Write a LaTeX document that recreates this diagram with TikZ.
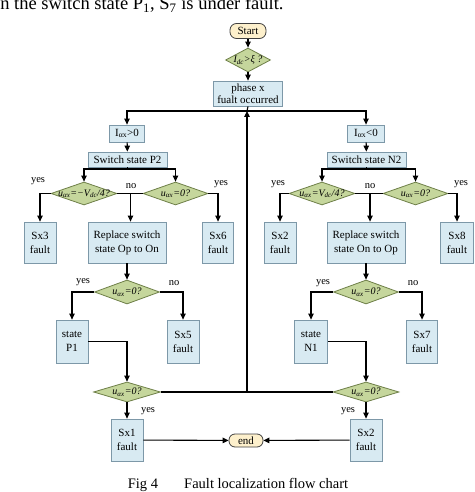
\documentclass[tikz,border=0pt]{standalone}
\usepackage{fontspec}
\setmainfont{Liberation Serif}
\usetikzlibrary{shapes.geometric,arrows.meta}
\definecolor{boxfill}{HTML}{D8EAF2}
\definecolor{boxdraw}{HTML}{7D98A8}
\definecolor{dfill}{HTML}{C5D69C}
\definecolor{ddraw}{HTML}{6E7F48}
\definecolor{tfill}{HTML}{FDF0CC}
\begin{document}
\begin{tikzpicture}[x=1pt,y=-1pt,
  box/.style 2 args={draw=boxdraw, fill=boxfill, line width=0.8pt, inner sep=0pt, align=center,
    minimum width=#1, minimum height=#2, font=\fontsize{11}{14}\selectfont},
  dia/.style 2 args={diamond, draw=ddraw, fill=dfill, line width=0.8pt, inner sep=0pt,
    minimum width=#1, minimum height=#2, font=\fontsize{10}{12}\selectfont\itshape},
  term/.style={draw=black!75, fill=tfill, line width=0.8pt, rounded corners=6.5pt, inner sep=0pt,
    minimum width=36, minimum height=15, font=\fontsize{11}{13}\selectfont},
  lbl/.style={inner sep=0pt, font=\fontsize{10.5}{12}\selectfont},
  con/.style={line width=1.1pt},
  arr/.style={con, -{Triangle[length=6pt,width=5.5pt]}}]
\useasboundingbox (0,0) rectangle (474,492);
\begin{scope}
\clip (0,0) rectangle (474,492);
\node[anchor=base west, inner sep=0pt, font=\fontsize{18.5}{20}\selectfont] (toptext) at (-6,10) {In the switch state P\textsubscript{1}, S\textsubscript{7} is under fault.};
\end{scope}
% top
\node[term] (start) at (248,31) {Start};
\node[dia={45}{24}] (d0) at (248,60) {\makebox[0pt]{I\textsubscript{dc}>ξ ?}};
\node[box={69}{25}, font=\fontsize{11}{12}\selectfont] (phase) at (248,93.5) {phase x\\fualt occurred};
\coordinate (t) at (247,111);
% left branch
\node[box={35}{17}] (Ipos) at (127,133.5) {I\textsubscript{αx}>0};
\node[box={79}{15}] (SP2) at (127.5,159.5) {Switch state P2};
\coordinate (s1) at (127.5,169);
\node[dia={66}{23}] (dL1) at (84,193.5) {\makebox[0pt]{u\textsubscript{αx}=−V\textsubscript{dc}/4?}};
\node[dia={65}{23}] (dR1) at (175.5,193.5) {\makebox[0pt]{u\textsubscript{αx}=0?}};
\coordinate (n1) at (130.5,193.5);
\node[box={32}{41}] (Sx3) at (40,242.5) {Sx3\\fault};
\node[box={78}{41}] (Rep1) at (127,242.5) {Replace switch\\state Op to On};
\node[box={31}{41}] (Sx6) at (218,242.5) {Sx6\\fault};
\node[dia={65}{24}] (d2) at (127,292) {\makebox[0pt]{u\textsubscript{αx}=0?}};
\node[box={32}{43}] (P1) at (72,341.5) {state\\P1};
\node[box={32}{43}] (Sx5) at (183,341.5) {Sx5\\fault};
\node[dia={67}{20}] (d3) at (127,392) {\makebox[0pt]{u\textsubscript{αx}=0?}};
\node[box={32}{42}] (Sx1) at (127,440) {Sx1\\fault};
% right branch
\node[box={37}{17}] (Ineg) at (366,133.5) {I\textsubscript{αx}<0};
\node[box={79}{15}] (SN2) at (366.5,159.5) {Switch state N2};
\coordinate (s2) at (366.5,169);
\node[dia={66}{23}] (dL2) at (322,193.5) {\makebox[0pt]{u\textsubscript{αx}=V\textsubscript{dc}/4?}};
\node[dia={65}{23}] (dR2) at (415.5,193.5) {\makebox[0pt]{u\textsubscript{αx}=0?}};
\coordinate (n2) at (370,193.5);
\node[box={32}{41}] (Sx2) at (280,242.5) {Sx2\\fault};
\node[box={78}{41}] (Rep2) at (366,242.5) {Replace switch\\state On to Op};
\node[box={33}{41}] (Sx8) at (457,242.5) {Sx8\\fault};
\node[dia={65}{24}] (d5) at (366,292) {\makebox[0pt]{u\textsubscript{αx}=0?}};
\node[box={33}{43}] (N1) at (311,341.5) {state\\N1};
\node[box={31}{43}] (Sx7) at (422,341.5) {Sx7\\fault};
\node[dia={66}{20}] (d4) at (366,392) {\makebox[0pt]{u\textsubscript{αx}=0?}};
\node[box={32}{42}] (Sx2b) at (366,440) {Sx2\\fault};
\node[term, minimum width=34, minimum height=13, rounded corners=6pt] (end) at (246,440.5) {end};
\coordinate (r) at (247,392);
% connectors top
\draw[arr] (start) -- (d0);
\draw[arr] (d0) -- (phase);
\draw[con] (phase.south) -- (t);
\draw[arr] (t) -| (Ipos.north);
\draw[arr] (t) -| (Ineg.north);
% left connectors
\draw[arr] (Ipos) -- (SP2);
\draw[con] (SP2.south) -- (s1);
\draw[arr] (s1) -| (dL1.north);
\draw[arr] (s1) -| (dR1.north);
\draw[arr] (dL1.west) -| (Sx3.north);
\draw[con] (dL1.east) -- (dR1.west);
\draw[arr] (n1) -- (n1 |- Rep1.north);
\draw[arr] (dR1.east) -| (Sx6.north);
\draw[arr] (Rep1) -- (d2);
\draw[arr] (d2.west) -| (P1.north);
\draw[arr] (d2.east) -| (Sx5.north);
\draw[arr] (P1.east) -| (d3.north);
\draw[arr] (d3) -- (Sx1);
% right connectors
\draw[arr] (Ineg) -- (SN2);
\draw[con] (SN2.south) -- (s2);
\draw[arr] (s2) -| (dL2.north);
\draw[arr] (s2) -| (dR2.north);
\draw[arr] (dL2.west) -| (Sx2.north);
\draw[con] (dL2.east) -- (dR2.west);
\draw[arr] (n2) -- (n2 |- Rep2.north);
\draw[arr] (dR2.east) -| (Sx8.north);
\draw[arr] (Rep2) -- (d5);
\draw[arr] (d5.west) -| (N1.north);
\draw[arr] (d5.east) -| (Sx7.north);
\draw[arr] (N1.east) -| (d4.north);
\draw[arr] (d4) -- (Sx2b);
% bottom
\draw[con] (d3.east) -- (d4.west);
\draw[arr] (r) -- (t);
\draw[arr] (Sx1) -- (end);
\draw[arr] (Sx2b) -- (end);
% labels
\node[lbl] (y1) at (38,181) {yes};
\node[lbl] (no1) at (131,186) {no};
\node[lbl] (y2) at (221,184) {yes};
\node[lbl] (y3) at (83,282) {yes};
\node[lbl] (no3) at (174,283) {no};
\node[lbl] (y4) at (148,411) {yes};
\node[lbl] (y5) at (278,184) {yes};
\node[lbl] (no5) at (370,186) {no};
\node[lbl] (y6) at (461,184) {yes};
\node[lbl] (y7) at (323,283) {yes};
\node[lbl] (no7) at (413,283) {no};
\node[lbl] (y8) at (348,411) {yes};
\node[anchor=base, inner sep=0pt, font=\fontsize{14.5}{16}\selectfont] (cap) at (238,488) {Fig 4\hspace{1.8em}Fault localization flow chart};
\end{tikzpicture}
\end{document}
